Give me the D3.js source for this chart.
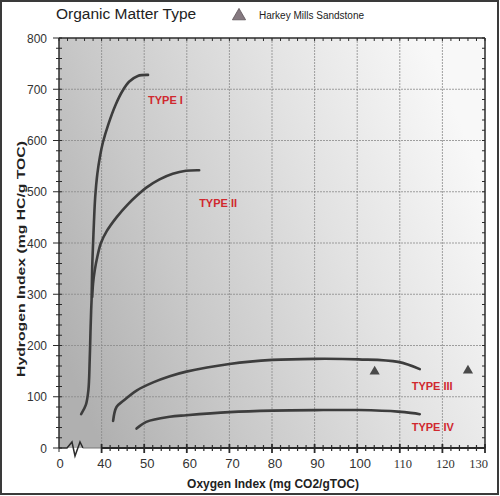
<!DOCTYPE html>
<html>
<head>
<meta charset="utf-8">
<script src="https://cdn.jsdelivr.net/npm/d3@7"></script>
<style>
html,body{margin:0;padding:0;background:#fff;}
svg{display:block;}
</style>
</head>
<body>
<svg id="chart" width="500" height="496"></svg>
<script>
// ---- data ----
const xTickValues = [30, 40, 50, 60, 70, 80, 90, 100, 110, 120, 130];
const xTickLabels = ["0", "40", "50", "60", "70", "80", "90", "100", "110", "120", "130"];
const yTickValues = [0, 100, 200, 300, 400, 500, 600, 700, 800];

const typeI = [
  [35.2, 66], [36.3, 84], [36.9, 113], [37.2, 170], [37.4, 230], [37.55, 269],
  [37.65, 289], [37.8, 354], [38.0, 399], [38.2, 440], [38.5, 490], [39.0, 535],
  [39.6, 568], [40.3, 596], [41.6, 632], [43.2, 668], [45.0, 698], [46.5, 715],
  [48.5, 726], [50.9, 728]
];
const typeII = [
  [37.8, 295], [38.0, 321], [38.4, 347], [39.0, 373], [39.8, 399], [41.2, 423],
  [43.5, 450], [46.0, 474], [48.5, 494], [50.5, 508], [53.6, 524], [56.7, 535],
  [59.8, 541], [62.9, 542]
];
const typeIII = [
  [42.7, 53], [43.5, 80], [45.1, 92], [48.2, 112], [52.1, 128], [56.0, 140],
  [59.9, 149], [70.0, 164], [80.1, 172], [90.2, 174], [100.3, 173], [109.6, 168], [114.7, 154]
];
const typeIV = [
  [48.2, 38], [50.5, 51], [56.0, 61], [59.9, 64], [70.0, 70], [80.1, 73],
  [90.2, 74], [100.3, 74], [109.6, 71], [114.7, 66]
];
const samples = [[104.1, 149], [126.0, 151]];
const typeLabels = [
  {text: "TYPE I", x: 50.9, y: 671},
  {text: "TYPE II", x: 62.9, y: 471},
  {text: "TYPE III", x: 112.8, y: 113},
  {text: "TYPE IV", x: 112.8, y: 33}
];

// ---- drawing ----
const svg = d3.select("#chart");
const L = 59, R = 485, T = 38, B = 448;
const x = d3.scaleLinear().domain([30, 130]).range([L, R]);
const y = d3.scaleLinear().domain([0, 800]).range([B, T]);

const defs = svg.append("defs");
const grad = defs.append("linearGradient").attr("id", "bg")
  .attr("x1", 0).attr("y1", 0.75).attr("x2", 1).attr("y2", 0.35);
grad.append("stop").attr("offset", 0).attr("stop-color", "#b0b0b0");
grad.append("stop").attr("offset", 0.3).attr("stop-color", "#c9c9c9");
grad.append("stop").attr("offset", 0.65).attr("stop-color", "#e2e2e2");
grad.append("stop").attr("offset", 1).attr("stop-color", "#f8f8f8");

// outer frame
svg.append("rect").attr("x", 1).attr("y", 1).attr("width", 497).attr("height", 493)
  .attr("fill", "#fff").attr("stroke", "#3a3a3a").attr("stroke-width", 2);

// plot background
svg.append("rect").attr("x", L).attr("y", T).attr("width", R - L).attr("height", B - T)
  .attr("fill", "url(#bg)");

// grid
const grid = svg.append("g").attr("stroke", "#8a8a8a").attr("stroke-width", 1)
  .attr("stroke-dasharray", "2,1").attr("stroke-opacity", 0.8);
grid.selectAll("line.v").data(d3.range(40, 130, 10)).join("line")
  .attr("x1", d => x(d)).attr("x2", d => x(d)).attr("y1", T).attr("y2", B);
grid.selectAll("line.h").data(d3.range(100, 800, 100)).join("line")
  .attr("y1", d => y(d)).attr("y2", d => y(d)).attr("x1", L).attr("x2", R);

// frame top/right
const ax = svg.append("g").attr("stroke", "#2b2b2b").attr("fill", "none");
ax.append("line").attr("x1", L).attr("x2", R).attr("y1", T).attr("y2", T).attr("stroke-width", 1.5);
ax.append("line").attr("x1", R).attr("x2", R).attr("y1", T).attr("y2", B).attr("stroke-width", 1.5);
ax.selectAll("line.tt").data(d3.range(30, 131, 2)).join("line")
  .attr("x1", d => x(d)).attr("x2", d => x(d)).attr("y1", T).attr("y2", T + 3);
ax.selectAll("line.rt").data(d3.range(0, 801, 20)).join("line")
  .attr("y1", d => y(d)).attr("y2", d => y(d)).attr("x1", R).attr("x2", R - 3);

// left axis
ax.append("line").attr("x1", L).attr("x2", L).attr("y1", T).attr("y2", B).attr("stroke-width", 1.5);
ax.selectAll("line.lt").data(d3.range(0, 801, 20)).join("line")
  .attr("y1", d => y(d)).attr("y2", d => y(d))
  .attr("x1", d => d % 100 === 0 ? L - 6 : L - 3).attr("x2", L + 3);

// bottom axis with break
ax.append("path").attr("stroke-width", 1.5)
  .attr("d", `M${L},${B} L${L + 8},${B} L${L + 13},${B - 6} L${L + 16},${B + 8} L${L + 21},${B - 6} L${L + 24},${B}`);
ax.append("line").attr("x1", L + 24).attr("x2", x(40)).attr("y1", B).attr("y2", B)
  .attr("stroke", "#777").attr("stroke-width", 1);
ax.append("line").attr("x1", x(40)).attr("x2", R).attr("y1", B).attr("y2", B).attr("stroke-width", 1.8);
ax.selectAll("line.bt").data(d3.range(40, 131, 2)).join("line")
  .attr("x1", d => x(d)).attr("x2", d => x(d))
  .attr("y1", d => d % 10 === 0 ? B - 4 : B - 3)
  .attr("y2", d => d % 10 === 0 ? B + 5 : B + 3)
  .attr("stroke-width", d => d % 10 === 0 ? 1.8 : 1.2);
ax.append("line").attr("x1", L).attr("x2", L).attr("y1", B).attr("y2", B + 4);

// tick labels
svg.append("g").selectAll("text").data(yTickValues).join("text")
  .attr("x", 47).attr("y", d => y(d) + 4.5).attr("text-anchor", "end")
  .attr("font-family", "Liberation Sans, Arial, sans-serif").attr("font-size", 12)
  .attr("fill", "#333").text(d => d);

svg.append("g").selectAll("text").data(xTickValues).join("text")
  .attr("x", (d, i) => i === xTickValues.length - 1 ? x(d) + 3 : x(d) + (i === 0 ? 1 : 3))
  .attr("y", 468)
  .attr("text-anchor", (d, i) => i === xTickValues.length - 1 ? "end" : "middle")
  .attr("font-family", d => d >= 110 ? "Liberation Serif, Times New Roman, serif" : "Liberation Sans Narrow, Liberation Sans, Arial, sans-serif")
  .attr("font-size", d => d >= 110 ? 12.5 : 13)
  .attr("fill", "#333")
  .text((d, i) => xTickLabels[i]);

// axis titles
svg.append("text").attr("x", 273).attr("y", 488).attr("text-anchor", "middle")
  .attr("font-family", "Liberation Sans, Arial, sans-serif").attr("font-size", 12).attr("font-weight", "bold")
  .attr("fill", "#222").text("Oxygen Index (mg CO2/gTOC)");
svg.append("text").attr("transform", "translate(25,259) rotate(-90)").attr("text-anchor", "middle")
  .attr("font-family", "Liberation Sans, Arial, sans-serif").attr("font-size", 11.5).attr("font-weight", "bold")
  .attr("textLength", 236).attr("lengthAdjust", "spacingAndGlyphs")
  .attr("fill", "#222").text("Hydrogen Index (mg HC/g TOC)");

// title & legend
svg.append("text").attr("x", 56).attr("y", 18.5)
  .attr("font-family", "Liberation Sans, Arial, sans-serif").attr("font-size", 15.5)
  .attr("fill", "#222").text("Organic Matter Type");
const tri = d3.symbol().type(d3.symbolTriangle);
svg.append("path").attr("d", tri.size(75)()).attr("transform", "translate(239,16)")
  .attr("fill", "#857980").attr("stroke", "#5a5055").attr("stroke-width", 0.8);
svg.append("text").attr("x", 259).attr("y", 19)
  .attr("font-family", "Liberation Sans, Arial, sans-serif").attr("font-size", 10)
  .attr("fill", "#222").text("Harkey Mills Sandstone");

// curves
const line = d3.line().x(d => x(d[0])).y(d => y(d[1])).curve(d3.curveCatmullRom.alpha(0.5));
svg.append("g").selectAll("path").data([typeI, typeII, typeIII, typeIV]).join("path")
  .attr("d", line).attr("fill", "none").attr("stroke", "#3d3d3d")
  .attr("stroke-width", 2.6).attr("stroke-linecap", "round").attr("stroke-linejoin", "round");

// samples
svg.append("g").selectAll("path").data(samples).join("path")
  .attr("d", tri.size(45)())
  .attr("transform", d => `translate(${x(d[0])},${y(d[1])})`)
  .attr("fill", "#4a4a4a");

// type labels
svg.append("g").selectAll("text").data(typeLabels).join("text")
  .attr("x", d => x(d.x)).attr("y", d => y(d.y))
  .attr("font-family", "Liberation Sans, Arial, sans-serif").attr("font-size", 11).attr("font-weight", "bold")
  .attr("fill", "#d0282e").text(d => d.text);
</script>
</body>
</html>
